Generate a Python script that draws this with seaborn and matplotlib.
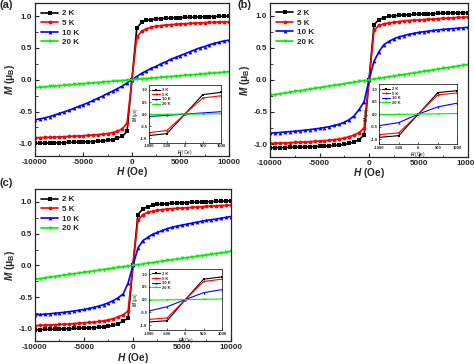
import matplotlib
matplotlib.use("Agg")
import matplotlib.pyplot as plt
from matplotlib.ticker import MultipleLocator
import seaborn as sns
import numpy as np

sns.set_style("ticks")
plt.rcParams['font.family'] = ['Liberation Sans', 'DejaVu Sans']
plt.rcParams['font.weight'] = 'bold'
plt.rcParams['mathtext.fontset'] = 'custom'
plt.rcParams['mathtext.rm'] = 'Liberation Sans:bold'
plt.rcParams['mathtext.it'] = 'Liberation Sans:bold:italic'
plt.rcParams['mathtext.bf'] = 'Liberation Sans:bold'

# ---------------- data ----------------
H = [-10000, -9500, -9000, -8500, -8000, -7500, -7000, -6500, -6000, -5500,
     -5000, -4500, -4000, -3500, -3000, -2500, -2000, -1500, -1000, -500,
     0, 500, 1000, 1500, 2000, 2500, 3000, 3500, 4000, 4500,
     5000, 5500, 6000, 6500, 7000, 7500, 8000, 8500, 9000, 9500, 10000]
labels = ["2 K", "5 K", "10 K", "20 K"]

a_2K = [-1.00, -0.998, -0.996, -0.994, -0.992, -0.99, -0.988, -0.985, -0.982, -0.979,
        -0.976, -0.973, -0.97, -0.965, -0.96, -0.952, -0.94, -0.92, -0.89, -0.81,
        0.00, 0.81, 0.90, 0.93, 0.945, 0.955, 0.96, 0.965, 0.97, 0.972,
        0.975, 0.978, 0.98, 0.983, 0.985, 0.988, 0.99, 0.992, 0.995, 0.997, 1.00]
a_5K = [-0.91, -0.908, -0.906, -0.903, -0.90, -0.897, -0.894, -0.89, -0.886, -0.882,
        -0.878, -0.873, -0.868, -0.862, -0.855, -0.845, -0.83, -0.81, -0.77, -0.68,
        0.00, 0.67, 0.76, 0.80, 0.825, 0.84, 0.85, 0.86, 0.865, 0.87,
        0.875, 0.88, 0.885, 0.89, 0.893, 0.896, 0.90, 0.903, 0.906, 0.908, 0.91]
a_10K = [-0.63, -0.615, -0.60, -0.58, -0.555, -0.53, -0.505, -0.48, -0.45, -0.42,
         -0.39, -0.36, -0.325, -0.29, -0.255, -0.215, -0.18, -0.14, -0.10, -0.05,
         0.00, 0.05, 0.10, 0.14, 0.18, 0.21, 0.25, 0.28, 0.32, 0.35,
         0.38, 0.41, 0.44, 0.47, 0.50, 0.52, 0.55, 0.57, 0.59, 0.61, 0.62]
a_20K = [-0.125, -0.119, -0.1125, -0.106, -0.10, -0.094, -0.0875, -0.081, -0.075, -0.069,
         -0.0625, -0.056, -0.05, -0.044, -0.0375, -0.031, -0.025, -0.019, -0.0125, -0.006,
         0.0, 0.006, 0.0125, 0.019, 0.025, 0.031, 0.0375, 0.044, 0.05, 0.056,
         0.0625, 0.069, 0.075, 0.081, 0.0875, 0.094, 0.10, 0.106, 0.1125, 0.119, 0.125]

b_2K = [-1.06, -1.058, -1.056, -1.054, -1.052, -1.05, -1.048, -1.046, -1.043, -1.04,
        -1.036, -1.032, -1.028, -1.022, -1.015, -1.005, -0.99, -0.965, -0.93, -0.86,
        0.00, 0.86, 0.94, 0.97, 0.99, 1.00, 1.005, 1.01, 1.015, 1.02,
        1.025, 1.028, 1.031, 1.034, 1.037, 1.04, 1.042, 1.044, 1.046, 1.048, 1.05]
b_5K = [-0.99, -0.987, -0.984, -0.981, -0.978, -0.975, -0.971, -0.967, -0.963, -0.958,
        -0.953, -0.947, -0.94, -0.93, -0.92, -0.905, -0.885, -0.86, -0.82, -0.75,
        0.00, 0.77, 0.85, 0.875, 0.89, 0.90, 0.91, 0.92, 0.925, 0.93,
        0.935, 0.94, 0.945, 0.95, 0.955, 0.96, 0.965, 0.97, 0.973, 0.977, 0.98]
b_10K = [-0.83, -0.825, -0.82, -0.813, -0.806, -0.80, -0.792, -0.784, -0.775, -0.765,
         -0.755, -0.742, -0.728, -0.71, -0.69, -0.66, -0.62, -0.56, -0.46, -0.34,
         0.00, 0.29, 0.44, 0.55, 0.60, 0.64, 0.67, 0.69, 0.71, 0.725,
         0.74, 0.75, 0.76, 0.77, 0.78, 0.787, 0.794, 0.80, 0.807, 0.813, 0.82]
b_20K = [-0.24, -0.228, -0.216, -0.204, -0.192, -0.18, -0.168, -0.156, -0.144, -0.132,
         -0.12, -0.108, -0.096, -0.084, -0.072, -0.06, -0.048, -0.036, -0.024, -0.012,
         0.0, 0.012, 0.024, 0.036, 0.048, 0.06, 0.072, 0.084, 0.096, 0.108,
         0.12, 0.132, 0.144, 0.156, 0.168, 0.18, 0.192, 0.204, 0.216, 0.228, 0.24]

c_2K = [-1.015, -1.013, -1.011, -1.009, -1.007, -1.005, -1.002, -0.999, -0.996, -0.993,
        -0.99, -0.986, -0.982, -0.977, -0.97, -0.96, -0.945, -0.92, -0.88, -0.83,
        0.00, 0.80, 0.89, 0.925, 0.945, 0.96, 0.967, 0.973, 0.978, 0.982,
        0.986, 0.99, 0.993, 0.996, 1.00, 1.003, 1.006, 1.009, 1.012, 1.016, 1.02]
c_5K = [-0.95, -0.947, -0.944, -0.94, -0.936, -0.932, -0.928, -0.923, -0.918, -0.912,
        -0.906, -0.90, -0.893, -0.885, -0.875, -0.86, -0.84, -0.81, -0.78, -0.72,
        0.00, 0.71, 0.80, 0.835, 0.855, 0.87, 0.88, 0.89, 0.895, 0.90,
        0.905, 0.91, 0.915, 0.92, 0.925, 0.93, 0.935, 0.94, 0.943, 0.947, 0.95]
c_10K = [-0.78, -0.775, -0.77, -0.763, -0.756, -0.748, -0.74, -0.73, -0.72, -0.708,
         -0.695, -0.68, -0.663, -0.643, -0.62, -0.59, -0.555, -0.51, -0.45, -0.28,
         0.00, 0.27, 0.39, 0.44, 0.49, 0.52, 0.55, 0.58, 0.60, 0.62,
         0.635, 0.65, 0.665, 0.68, 0.695, 0.71, 0.72, 0.73, 0.745, 0.757, 0.77]
c_20K = [-0.22, -0.209, -0.198, -0.187, -0.176, -0.165, -0.154, -0.143, -0.132, -0.121,
         -0.11, -0.099, -0.088, -0.077, -0.066, -0.055, -0.044, -0.033, -0.022, -0.011,
         0.0, 0.011, 0.022, 0.033, 0.044, 0.055, 0.066, 0.077, 0.088, 0.099,
         0.11, 0.121, 0.132, 0.143, 0.154, 0.165, 0.176, 0.187, 0.198, 0.209, 0.22]

x_ticks = [-10000, -5000, 0, 5000, 10000]
x_ticklabels = ["-10000", "-5000", "0", "5000", "10000"]
y_ticks = [-1.0, -0.5, 0.0, 0.5, 1.0]
y_ticklabels = ["-1.0", "-0.5", "0.0", "0.5", "1.0"]
inset_x_ticks = [-1000, -500, 0, 500, 1000]
inset_x_ticklabels = ["-1000", "-500", "0", "500", "1000"]

panels = {"(a)": [a_2K, a_5K, a_10K, a_20K],
          "(b)": [b_2K, b_5K, b_10K, b_20K],
          "(c)": [c_2K, c_5K, c_10K, c_20K]}

colors = ["#000000", "#ff0000", "#0000ff", "#00ee00"]
markers = ["s", "o", "^", "v"]

main_pos = {"(a)": [0.0738, 0.571, 0.409, 0.420],
            "(b)": [0.5696, 0.569, 0.418, 0.423],
            "(c)": [0.0738, 0.062, 0.4135, 0.418]}
inset_pos = {"(a)": [0.314, 0.607, 0.152, 0.159],
             "(b)": [0.800, 0.604, 0.165, 0.165],
             "(c)": [0.314, 0.093, 0.154, 0.168]}
label_pos = {"(a)": (0.0, 1.0), "(b)": (0.500, 1.0), "(c)": (0.0, 0.51)}

fig = plt.figure(figsize=(4.74, 3.64), dpi=100)

Harr = np.array(H)
inmask = np.abs(Harr) <= 1000

for key, series in panels.items():
    ax = fig.add_axes(main_pos[key])
    for lab, col, mk, M in zip(labels, colors, markers, series):
        sns.lineplot(x=H, y=M, ax=ax, color=col, marker=mk, markersize=2.7,
                     markeredgewidth=0, linewidth=1.2, label=lab, sort=False)
    ax.set_xlim(-10000, 10000)
    ax.set_ylim(-1.2, 1.2)
    ax.set_xticks(x_ticks)
    ax.set_yticks(y_ticks)
    ax.set_xticklabels(x_ticklabels)
    ax.set_yticklabels(y_ticklabels)
    ax.xaxis.set_minor_locator(MultipleLocator(2500))
    ax.yaxis.set_minor_locator(MultipleLocator(0.25))
    ax.tick_params(which="major", direction="in", length=3, width=0.8, labelsize=5.8, pad=2)
    ax.tick_params(which="minor", direction="in", length=1.8, width=0.6)
    for s in ax.spines.values():
        s.set_linewidth(0.9)
    ax.set_xlabel(r"$H$ (Oe)", fontsize=7.3, fontweight="bold", labelpad=-0.5)
    ax.set_ylabel(r"$M$ ($\mathregular{\mu_B}$)", fontsize=7.3, fontweight="bold", labelpad=1)
    ax.legend(loc="upper left", frameon=False, handlelength=2.1,
              labelspacing=0.25, borderaxespad=0.4, handletextpad=0.4,
              prop={"weight": "bold", "size": 5.8})
    fig.text(label_pos[key][0], label_pos[key][1], key, fontsize=8, fontweight="bold",
             ha="left", va="top")

    # inset
    ins = fig.add_axes(inset_pos[key])
    for lab, col, mk, M in zip(labels, colors, markers, series):
        Mi = list(np.array(M)[inmask])
        Hi = list(Harr[inmask])
        sns.lineplot(x=Hi, y=Mi, ax=ins, color=col, marker=mk, markersize=1.5,
                     markeredgewidth=0, linewidth=0.8, label=lab, sort=False)
    ins.set_xlim(-1000, 1000)
    ins.set_ylim(-1.2, 1.2)
    ins.set_xticks(inset_x_ticks)
    ins.set_yticks(y_ticks)
    ins.set_xticklabels(inset_x_ticklabels)
    ins.set_yticklabels(y_ticklabels)
    ins.tick_params(direction="in", length=1.5, width=0.5, labelsize=3, pad=1)
    for s in ins.spines.values():
        s.set_linewidth(0.6)
    ins.set_xlabel(r"$H$ (Oe)", fontsize=3.3, labelpad=0)
    ins.set_ylabel(r"$M$ ($\mathregular{\mu_B}$)", fontsize=3.3, labelpad=0)
    ins.legend(loc="upper left", frameon=False, handlelength=2.0,
               labelspacing=0.15, borderaxespad=0.3, handletextpad=0.4,
               prop={"weight": "bold", "size": 3})

fig.savefig("out.png", dpi=100)
